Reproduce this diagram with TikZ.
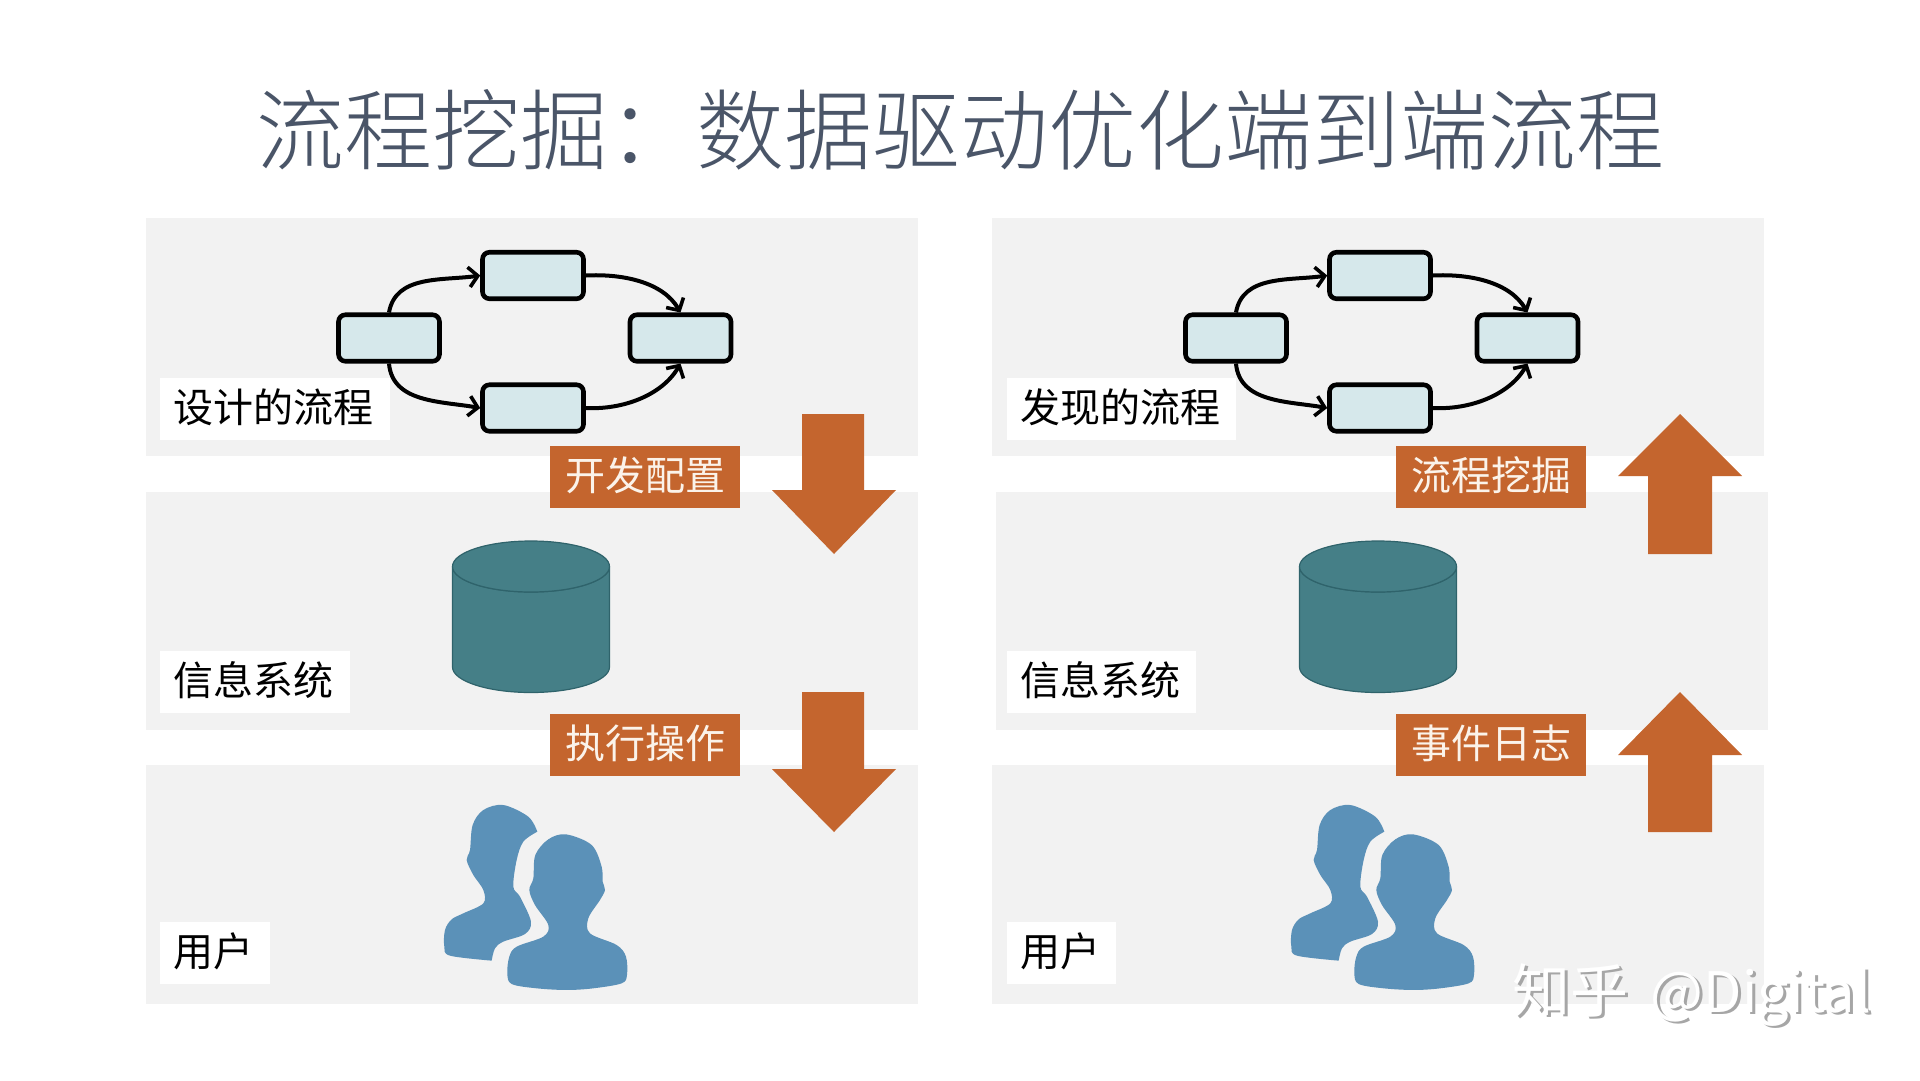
\documentclass[tikz,border=0pt]{standalone}
\usepackage{fontspec}
\setmainfont{Noto Sans CJK SC}
\newfontfamily\titlecjk{Noto Sans CJK SC Light}
\usetikzlibrary{arrows.meta}
\definecolor{panelgray}{HTML}{F2F2F2}
\definecolor{titleink}{HTML}{4A5568}
\definecolor{rust}{HTML}{C4652E}
\definecolor{boxfill}{HTML}{D6E8EB}
\definecolor{teal}{HTML}{457F87}
\definecolor{tealedge}{HTML}{2F636B}
\definecolor{userblue}{HTML}{5B91B8}
\definecolor{tagtext}{HTML}{FBF3EA}
\tikzset{
  x=1pt,y=-1pt,
  panel/.style={fill=panelgray},
  stepbox/.style={draw=black,line width=4.6pt,fill=boxfill,rounded corners=7pt,minimum width=101pt,minimum height=46.5pt,inner sep=0pt},
  flowline/.style={draw=black,line width=4pt,-{Straight Barb[length=9pt,width=20pt,line width=3.6pt]}},
  layerlabel/.style={fill=white,text=black,font=\fontsize{40}{40}\selectfont,minimum height=62pt,inner sep=0pt,anchor=west,text height=34pt,text depth=7pt,execute at begin node={\hspace*{-3pt}}},
  tag/.style={fill=rust,text=tagtext,font=\fontsize{40}{40}\selectfont,minimum width=190pt,minimum height=62pt,inner sep=0pt,text height=34pt,text depth=6pt},
  bigarrow/.style={fill=rust},
  cyl/.style={fill=teal,draw=tealedge,line width=1.2pt},
  user/.style={fill=userblue},
  pics/flow/.style={code={
    \node[stepbox] (a) at (-144,-49) {};
    \node[stepbox] (b) at (0,-111.5) {};
    \node[stepbox] (c) at (0,21) {};
    \node[stepbox] (d) at (147.5,-49) {};
    \draw[flowline] (a.north) to[out=80,in=188,looseness=1] (b.west);
    \draw[flowline] (a.south) to[out=-85,in=170,looseness=1] (c.west);
    \draw[flowline] (b.east) to[out=3,in=120,looseness=0.9] (d.north);
    \draw[flowline] (c.east) to[out=-3,in=-120,looseness=0.9] (d.south);
  }},
  pics/drum/.style={code={
    \path[cyl] (-78.5,0) -- (-78.5,100.5) arc[start angle=180,end angle=360,x radius=78.5,y radius=-25.5] -- (78.5,0) arc[start angle=0,end angle=180,x radius=78.5,y radius=25.5] -- cycle;
    \path[cyl] (0,0) ellipse[x radius=78.5,y radius=25.5];
  }},
  pics/people/.style={code={
    \begin{scope}[x=0.3333pt,y=-0.3333pt]
    \path[user] plot[smooth,tension=0.55] coordinates {(352,155) (325,110) (250,75) (190,90) (158,135) (150,210) (140,240) (160,285) (190,330) (190,370) (130,400) (95,418) (75,450) (73,500) (90,527) (215,542)}
      -- plot[smooth,tension=0.55] coordinates {(215,542) (225,505) (250,485) (315,462) (333,425) (300,350) (280,320) (290,240) (310,185) (352,155)} -- cycle;
    \path[user] plot[smooth cycle,tension=0.55] coordinates {(438,163) (515,195) (545,260) (548,305) (555,330) (540,360) (505,415) (510,460) (590,495) (618,530) (621,585) (605,610) (520,625) (440,630) (350,625) (275,612) (262,580) (268,530) (290,500) (370,470) (385,435) (345,375) (328,330) (340,295) (346,225) (385,178)};
    \end{scope}
  }}
}
\newcommand{\wmtext}{知乎\hspace{22pt}{\fontsize{55.8}{58}\selectfont @Digital}}
\begin{document}
\begin{tikzpicture}
\useasboundingbox (0,0) rectangle (1920,1080);
\fill[white] (0,0) rectangle (1920,1080);
% panels
\path[panel] (146,218) rectangle (918,456);
\path[panel] (146,492) rectangle (918,730);
\path[panel] (146,765) rectangle (918,1004);
\path[panel] (992,218) rectangle (1764,456);
\path[panel] (996,492) rectangle (1768,730);
\path[panel] (992,765) rectangle (1764,1004);
% title
\node[text=titleink,font=\titlecjk\fontsize{88}{88}\selectfont,inner sep=0pt] (title) at (960,130) {流程挖掘：数据驱动优化端到端流程};
% flows
\pic (lf) at (533,387) {flow};
\pic (rf) at (1380,387) {flow};
% cylinders
\pic (lc) at (531,566.5) {drum};
\pic (rc) at (1378,566.5) {drum};
% users
\pic (lu) at (420,780) {people};
\pic (ru) at (1267,780) {people};
% labels
\node[layerlabel,minimum width=230pt] (l1) at (160,409) {设计的流程};
\node[layerlabel,minimum width=190pt] (l2) at (160,682) {信息系统};
\node[layerlabel,minimum width=110pt] (l3) at (160,953) {用户};
\node[layerlabel,minimum width=229pt] (r1) at (1007,409) {发现的流程};
\node[layerlabel,minimum width=189pt] (r2) at (1007,682) {信息系统};
\node[layerlabel,minimum width=109pt] (r3) at (1007,953) {用户};
% tags
\node[tag] (t1) at (645,476.5) {开发配置};
\node[tag] (t2) at (645,744.5) {执行操作};
\node[tag] (t3) at (1491,476.5) {流程挖掘};
\node[tag] (t4) at (1491,744.5) {事件日志};
% arrows
\path[bigarrow] (802,414) -- (864,414) -- (864,490) -- (896,490) -- (834,554) -- (772,490) -- (802,490) -- cycle;
\path[bigarrow] (802,692) -- (864,692) -- (864,769) -- (896,769) -- (834,832) -- (772,769) -- (802,769) -- cycle;
\path[bigarrow] (1680,414) -- (1742,476) -- (1712,476) -- (1712,554) -- (1648,554) -- (1648,476) -- (1618,476) -- cycle;
\path[bigarrow] (1680,692) -- (1742,755) -- (1712,755) -- (1712,832) -- (1648,832) -- (1648,755) -- (1618,755) -- cycle;
% watermark
\node[text=gray!70,font=\fontsize{58}{58}\selectfont,inner sep=0pt,anchor=center] (wm1) at (1695,997) {\wmtext};
\node[text=white,font=\fontsize{58}{58}\selectfont,inner sep=0pt,anchor=center] (wm2) at (1692,995) {\wmtext};
\end{tikzpicture}
\end{document}
